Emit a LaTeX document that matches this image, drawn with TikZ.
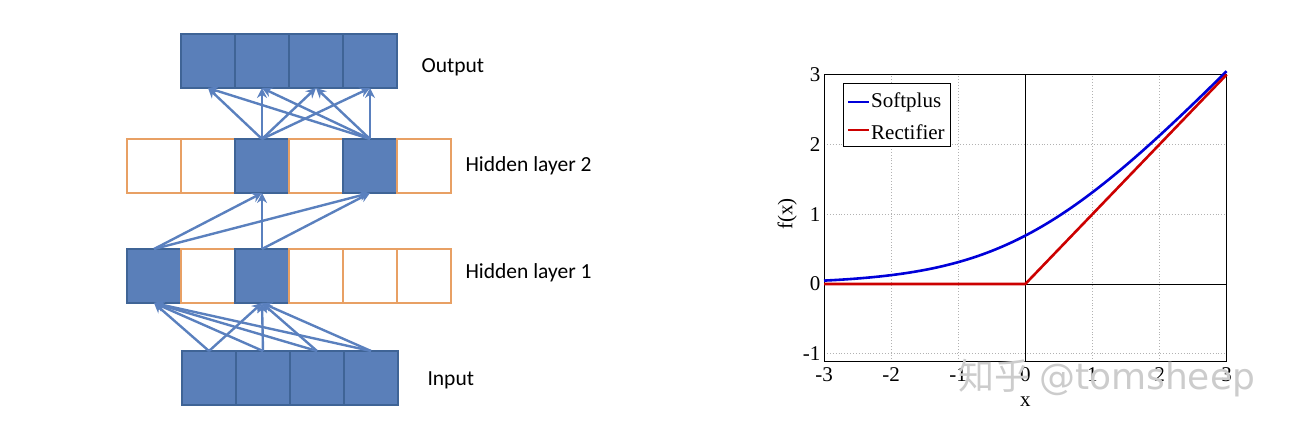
\documentclass[tikz,border=0pt]{standalone}
\usepackage{fontspec}
\setmainfont{Liberation Serif}
\newfontfamily\calibrifont{Carlito}
\newfontfamily\cjkfont{Noto Sans CJK SC}
\newfontfamily\wmfont{DejaVu Sans}
\usetikzlibrary{arrows.meta}
\definecolor{bfill}{HTML}{5A7FB9}
\definecolor{bdraw}{HTML}{3F6496}
\definecolor{obox}{HTML}{E8A064}
\definecolor{arr}{HTML}{5A80BE}
\begin{document}
\begin{tikzpicture}[x=1pt,y=-1pt,
  full/.style={draw=bdraw,fill=bfill,line width=1.3pt,minimum width=54pt,minimum height=54pt,inner sep=0,outer sep=0},
  empty/.style={draw=obox,fill=white,line width=1.5pt,minimum width=54pt,minimum height=54pt,inner sep=0,outer sep=0},
  con/.style={draw=arr,line width=2.4pt,-{Stealth[length=10pt,width=10pt]}},
  lab/.style={font=\calibrifont\fontsize{21.5}{24}\selectfont,anchor=west},
  tick/.style={font=\fontsize{21}{22}\selectfont}]
\useasboundingbox (0,0) rectangle (1302,436);
% layers
\foreach \i/\x in {1/208,2/262,3/316,4/370}{
  \node[full] (o\i) at (\x,61) {};
  \node[full] (in\i) at (\x+1,378) {};
}
\foreach \i/\x/\s in {1/154/empty,2/208/empty,3/262/full,4/316/empty,5/370/full,6/424/empty}
  \node[\s] (b\i) at (\x,166) {};
\foreach \i/\x/\s in {1/154/full,2/208/empty,3/262/full,4/316/empty,5/370/empty,6/424/empty}
  \node[\s] (a\i) at (\x,276) {};
\node[lab] (lo) at (418,67) {Output};
\node[lab] (l2) at (462,166) {Hidden layer 2};
\node[lab] (l1) at (462,273) {Hidden layer 1};
\node[lab] (li) at (424,380) {Input};
% connectors
\foreach \s in {1,2,3,4}{
  \draw[con] (in\s.north) -- (a1.south);
  \draw[con] (in\s.north) -- (a3.south);
}
\foreach \s in {1,3}{
  \draw[con] (a\s.north) -- (b3.south);
  \draw[con] (a\s.north) -- (b5.south);
}
\foreach \t in {1,2,3,4}{
  \draw[con] (b3.north) -- (o\t.south);
  \draw[con] (b5.north) -- (o\t.south);
}
% plot
\begin{scope}[shift={(1025.3,284)},xscale=67.1,yscale=-69.8]
  \foreach \g in {-2,-1,1,2} \draw[gray!60,dotted,line width=0.9pt] (\g,-1.11) -- (\g,3);
  \foreach \g in {-1,1,2} \draw[gray!60,dotted,line width=0.9pt] (-3,\g) -- (3,\g);
  \draw[black,line width=0.9pt] (-3,-1.11) rectangle (3,3);
  \draw[black,line width=0.9pt] (0,-1.11) -- (0,3) (-3,0) -- (3,0);
  \foreach \v in {-3,-2,-1,0,1,2,3} \node[tick,anchor=north] (tx\v) at (\v,-1.15) {\v};
  \foreach \v in {-1,0,1,2,3} \node[tick,anchor=east] (ty\v) at (-3.0,\v) {\v};
  \node[tick] (xl) at (0,-1.68) {x};
  \node[tick,rotate=90] (yl) at (-3.55,1) {f(x)};
  \draw[blue!85!black,line width=2.6pt,domain=-3:3,samples=80,smooth] plot (\x,{ln(1+exp(\x))});
  \draw[red!80!black,line width=2.6pt] (-3,0) -- (0,0) -- (3,3);
\end{scope}
\draw[black,line width=0.9pt,fill=white] (843,83) rectangle (950,146);
\draw[blue!85!black,line width=2.6pt] (848,102) -- (869,102);
\draw[red!80!black,line width=2.6pt] (848,130) -- (869,130);
\node[tick,anchor=west,inner sep=0] (ls) at (871,102) {Softplus};
\node[tick,anchor=west,inner sep=0] (lr) at (871,132) {Rectifier};
% watermark
\node[anchor=west,text=gray!40,font=\fontsize{36}{40}\selectfont,inner sep=0] (wm) at (958,378) {{\cjkfont 知乎} {\wmfont @tomsheep}};
\end{tikzpicture}
\end{document}
